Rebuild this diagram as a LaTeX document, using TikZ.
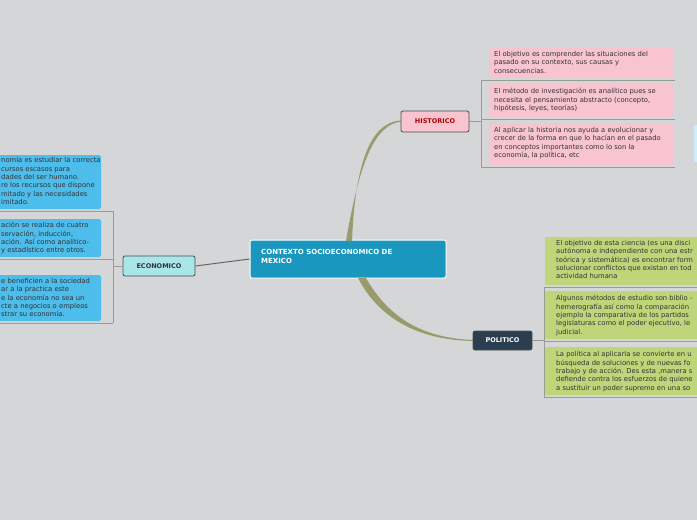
\documentclass[tikz,border=0pt]{standalone}
\usepackage{fontspec}
\setmainfont{DejaVu Sans}
\definecolor{bg}{HTML}{D4D6D8}
\definecolor{pinkbox}{HTML}{F8C4D0}
\definecolor{greenbox}{HTML}{BFD57A}
\definecolor{bluebox}{HTML}{4DBDEC}
\definecolor{centerc}{HTML}{1A97BE}
\definecolor{branch}{HTML}{9A9B6C}
\definecolor{linec}{HTML}{9A9C94}
\definecolor{ecoc}{HTML}{A8E6EA}
\definecolor{polc}{HTML}{2B3E50}
\begin{document}
\begin{tikzpicture}[x=1pt,y=-1pt,
  txt/.style={anchor=north west,inner sep=0pt,align=left,font=\fontsize{6.8}{8.4}\selectfont,text=black!80},
  topic/.style={draw=black!70,line width=0.8pt,rounded corners=2pt,font=\bfseries\fontsize{6.5}{8}\selectfont,inner sep=0pt}]
\clip (0,0) rectangle (697,520);
\fill[bg] (0,0) rectangle (697,520);
% center
\node[draw=white,line width=1pt,rounded corners=2pt,fill=centerc,minimum width=196pt,minimum height=38pt,inner sep=0pt] (c) at (348,259) {};
\node[anchor=north west,align=left,text=white,font=\bfseries\fontsize{7}{9}\selectfont,inner sep=0pt] (ct) at (261,249) {CONTEXTO SOCIOECONOMICO DE\\MEXICO};
% branches
\fill[branch] (346,241) .. controls (360,160) and (375,125) .. (401,121.5) -- (401,120.5) .. controls (370,122) and (355,165) .. (352,241) -- cycle;
\fill[branch] (358,278) .. controls (380,320) and (420,340) .. (473,341) -- (473,340) .. controls (425,338) and (390,320) .. (366,278) -- cycle;
% topics
\node[topic,fill=pinkbox,text=red!70!black,minimum width=68pt,minimum height=21pt] (h) at (435,121.5) {HISTORICO};
\node[topic,fill=polc,text=white,minimum width=59pt,minimum height=19pt] (p) at (502.5,340.5) {POLITICO};
\node[topic,fill=ecoc,text=black!80,minimum width=72pt,minimum height=20pt] (e) at (159,266) {ECONOMICO};
\draw[black!60,line width=1pt] (c.west) -- (e.east);
% pink boxes
\foreach \ya/\yb in {47/78,84/117,123/165}{\fill[pinkbox,rounded corners=2pt] (489,\ya) rectangle (673,\yb);
  \draw[linec,line width=0.6pt] (481,\yb+2) -- (675,\yb+2);}
\draw[linec,line width=0.6pt] (481,80) -- (481,167);
\draw[linec,line width=0.6pt] (h.east) -- (481,121.5);
\node[txt] (h1) at (494,51) {El objetivo es comprender las situaciones del\\pasado en su contexto, sus causas y\\consecuencias.};
\node[txt] (h2) at (494,88) {El método de investigación es analítico pues se\\necesita el pensamiento abstracto (concepto,\\hipótesis, leyes, teorías)};
\node[txt] (h3) at (494,127) {Al aplicar la historia nos ayuda a evolucionar y\\crecer de la forma en que lo hacían en el pasado\\en conceptos importantes como lo son la\\economía, la política, etc};
\fill[cyan!20!white] (694,125) rectangle (700,162);
% green boxes
\foreach \ya/\yb in {237/285,291/339,347/395}{\fill[greenbox,rounded corners=2pt] (545,\ya) rectangle (705,\yb);
  \draw[linec,line width=0.6pt] (544,\yb+2) -- (705,\yb+2);}
\draw[linec,line width=0.6pt] (544,287) -- (544,397);
\draw[linec,line width=0.6pt] (p.east) -- (544,340.5);
\node[txt] (g1) at (556,240) {El objetivo de esta ciencia (es una disci\\autónoma e independiente con una estr\\teórica y sistemática) es encontrar form\\solucionar conflictos que existan en tod\\actividad humana};
\node[txt] (g2) at (556,295) {Algunos métodos de estudio son biblio -\\hemerografía así como la comparación\\ejemplo la comparativa de los partidos\\legislaturas como el poder ejecutivo, le\\judicial.};
\node[txt] (g3) at (556,351) {La política al aplicarla se convierte en u\\búsqueda de soluciones y de nuevas fo\\trabajo y de acción. Des esta ,manera s\\defiende contra los esfuerzos de quiene\\a sustituir un poder supremo en una so};
% blue boxes
\foreach \ya/\yb in {155/209,219/257,275/321}{\fill[bluebox,rounded corners=2pt] (-10,\ya) rectangle (101,\yb);
  \draw[linec,line width=0.6pt] (-10,\yb+2) -- (113,\yb+2);}
\draw[linec,line width=0.6pt] (113,211) -- (113,323);
\draw[linec,line width=0.6pt] (e.west) -- (113,266);
\node[txt] (b1) at (1,157) {nomía es estudiar la correcta\\cursos escasos para\\dades del ser humano.\\re los recursos que dispone\\mitado y las necesidades\\imitado.};
\node[txt] (b2) at (1,222) {ación se realiza de cuatro\\servación, inducción,\\ación. Así como analítico-\\y estadístico entre otros.};
\node[txt] (b3) at (1,278) {e beneficien a la sociedad\\ar a la practica este\\e la economía no sea un\\cte a negocios o empleos\\strar su economía.};
\end{tikzpicture}
\end{document}
